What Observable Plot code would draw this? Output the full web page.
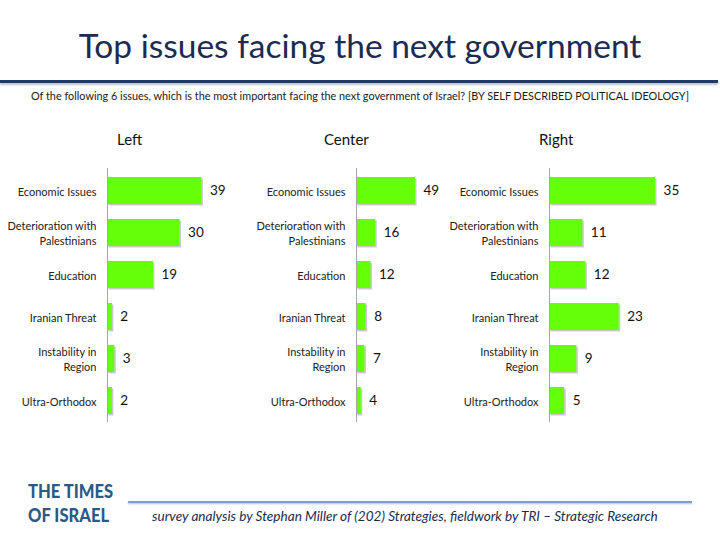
<!DOCTYPE html>
<html>
<head>
<meta charset="utf-8">
<script src="https://cdn.jsdelivr.net/npm/d3@7"></script>
<script src="https://cdn.jsdelivr.net/npm/@observablehq/plot@0.6"></script>
<style>
  html, body { margin: 0; padding: 0; background: #fff; }
  #page { position: relative; width: 720px; height: 540px; overflow: hidden; font-family: Lato, "Open Sans", sans-serif; }
  .abs { position: absolute; }
  #title { left: 0; width: 720px; top: 25px; text-align: center; font-size: 33.5px; color: #1c2b4f; }
  #rule { left: 0; width: 718px; top: 80px; height: 3px; background: #1f3a66; box-shadow: 0 2px 2px rgba(120,140,170,0.5); }
  #subtitle { left: 0; width: 720px; top: 89px; text-align: center; font-size: 10.85px; color: #1a1a1a; }
  .head { top: 130px; font-size: 15px; color: #111; }
  .logo { left: 28px; font-family: Lato, sans-serif; font-weight: 900; font-size: 19.5px; line-height: 23.4px; height: 23.4px; color: #2c5a88; white-space: nowrap; transform: scaleX(0.85); transform-origin: top left; }
  #logo1 { top: 479px; }
  #logo2 { top: 502.5px; }
  #footline { left: 128px; width: 564px; top: 501px; height: 2px; background: #7f9fd0; box-shadow: 0 1px 2px rgba(100,120,160,0.5); }
  #caption { left: 0; width: 720px; padding-left: 152px; box-sizing: border-box; top: 508px; font-size: 13.6px; font-style: italic; color: #1c2b4f; white-space: nowrap; }
</style>
</head>
<body>
<div id="page">
  <div id="title" class="abs">Top issues facing the next government</div>
  <div id="rule" class="abs"></div>
  <div id="subtitle" class="abs">Of the following 6 issues, which is the most important facing the next government of Israel? [BY SELF DESCRIBED POLITICAL IDEOLOGY]</div>
  <div id="logo1" class="abs logo">THE TIMES</div>
  <div id="logo2" class="abs logo">OF ISRAEL</div>
  <div id="footline" class="abs"></div>
  <div id="caption" class="abs">survey analysis by Stephan Miller of (202) Strategies, fieldwork by TRI – Strategic Research</div>
</div>
<script>
// ---- data ----
const issues = ["Economic Issues", "Deterioration with\nPalestinians", "Education", "Iranian Threat", "Instability in\nRegion", "Ultra-Orthodox"];
const groups = ["Left", "Center", "Right"];
const leftValues = [39, 30, 19, 2, 3, 2];
const centerValues = [49, 16, 12, 8, 7, 4];
const rightValues = [35, 11, 12, 23, 9, 5];

// ---- layout per panel (page coordinates) ----
const panels = [
  {name: groups[0], values: leftValues, left: 0, width: 240, marginLeft: 107, domain: [0, 50], headX: 117},
  {name: groups[1], values: centerValues, left: 240, width: 240, marginLeft: 116, domain: [0, 100], headX: 324},
  {name: groups[2], values: rightValues, left: 440, width: 280, marginLeft: 109, domain: [0, 50], headX: 539}
];
const pxPerUnit = [2.42, 1.204, 3.03];

const page = document.getElementById("page");
const svgTop = 160, svgHeight = 270, marginTop = 8, marginBottom = 8;
const step = (svgHeight - marginTop - marginBottom) / issues.length;

panels.forEach((p, k) => {
  const rows = issues.map((c, i) => ({issue: c, value: p.values[i]}));
  const rangeW = (p.domain[1] - p.domain[0]) * pxPerUnit[k];
  const chart = Plot.plot({
    width: p.width,
    height: svgHeight,
    marginLeft: p.marginLeft,
    marginRight: p.width - p.marginLeft - rangeW,
    marginTop, marginBottom,
    style: {fontFamily: "Lato, 'Open Sans', sans-serif", background: "transparent", overflow: "visible"},
    x: {domain: p.domain, axis: null},
    y: {domain: issues, axis: null, paddingInner: 0.36, paddingOuter: 0.18},
    marks: [
      Plot.barX(rows, {x: "value", y: "issue", fill: "#8a8a8a", fillOpacity: 0.45, dx: 1.5, dy: 1.5}),
      Plot.barX(rows, {x: "value", y: "issue", fill: "#66ff0a"}),
      Plot.ruleX([0], {stroke: "#a6a6a6", strokeWidth: 1}),
      Plot.ruleY(issues, {y: d => d, x1: 0, x2: 0, dx: -5, stroke: "#a6a6a6", dy: -step / 2}),
      Plot.ruleY(issues.slice(-1), {y: d => d, x1: 0, x2: 0, dx: -5, stroke: "#a6a6a6", dy: step / 2}),
      Plot.text(rows, {x: "value", y: "issue", text: d => String(d.value), textAnchor: "start", dx: 8, fontSize: 13.5, fill: "#111"}),
      Plot.text(rows, {x: 0, y: "issue", text: "issue", textAnchor: "end", dx: -11, fontSize: 11, lineHeight: 1.3, fill: "#222"})
    ]
  });
  chart.classList.add("abs");
  chart.style.left = p.left + "px";
  chart.style.top = svgTop + "px";
  page.appendChild(chart);

  const h = document.createElement("div");
  h.className = "abs head";
  h.style.left = p.headX + "px";
  h.textContent = p.name;
  page.appendChild(h);
});
</script>
</body>
</html>
